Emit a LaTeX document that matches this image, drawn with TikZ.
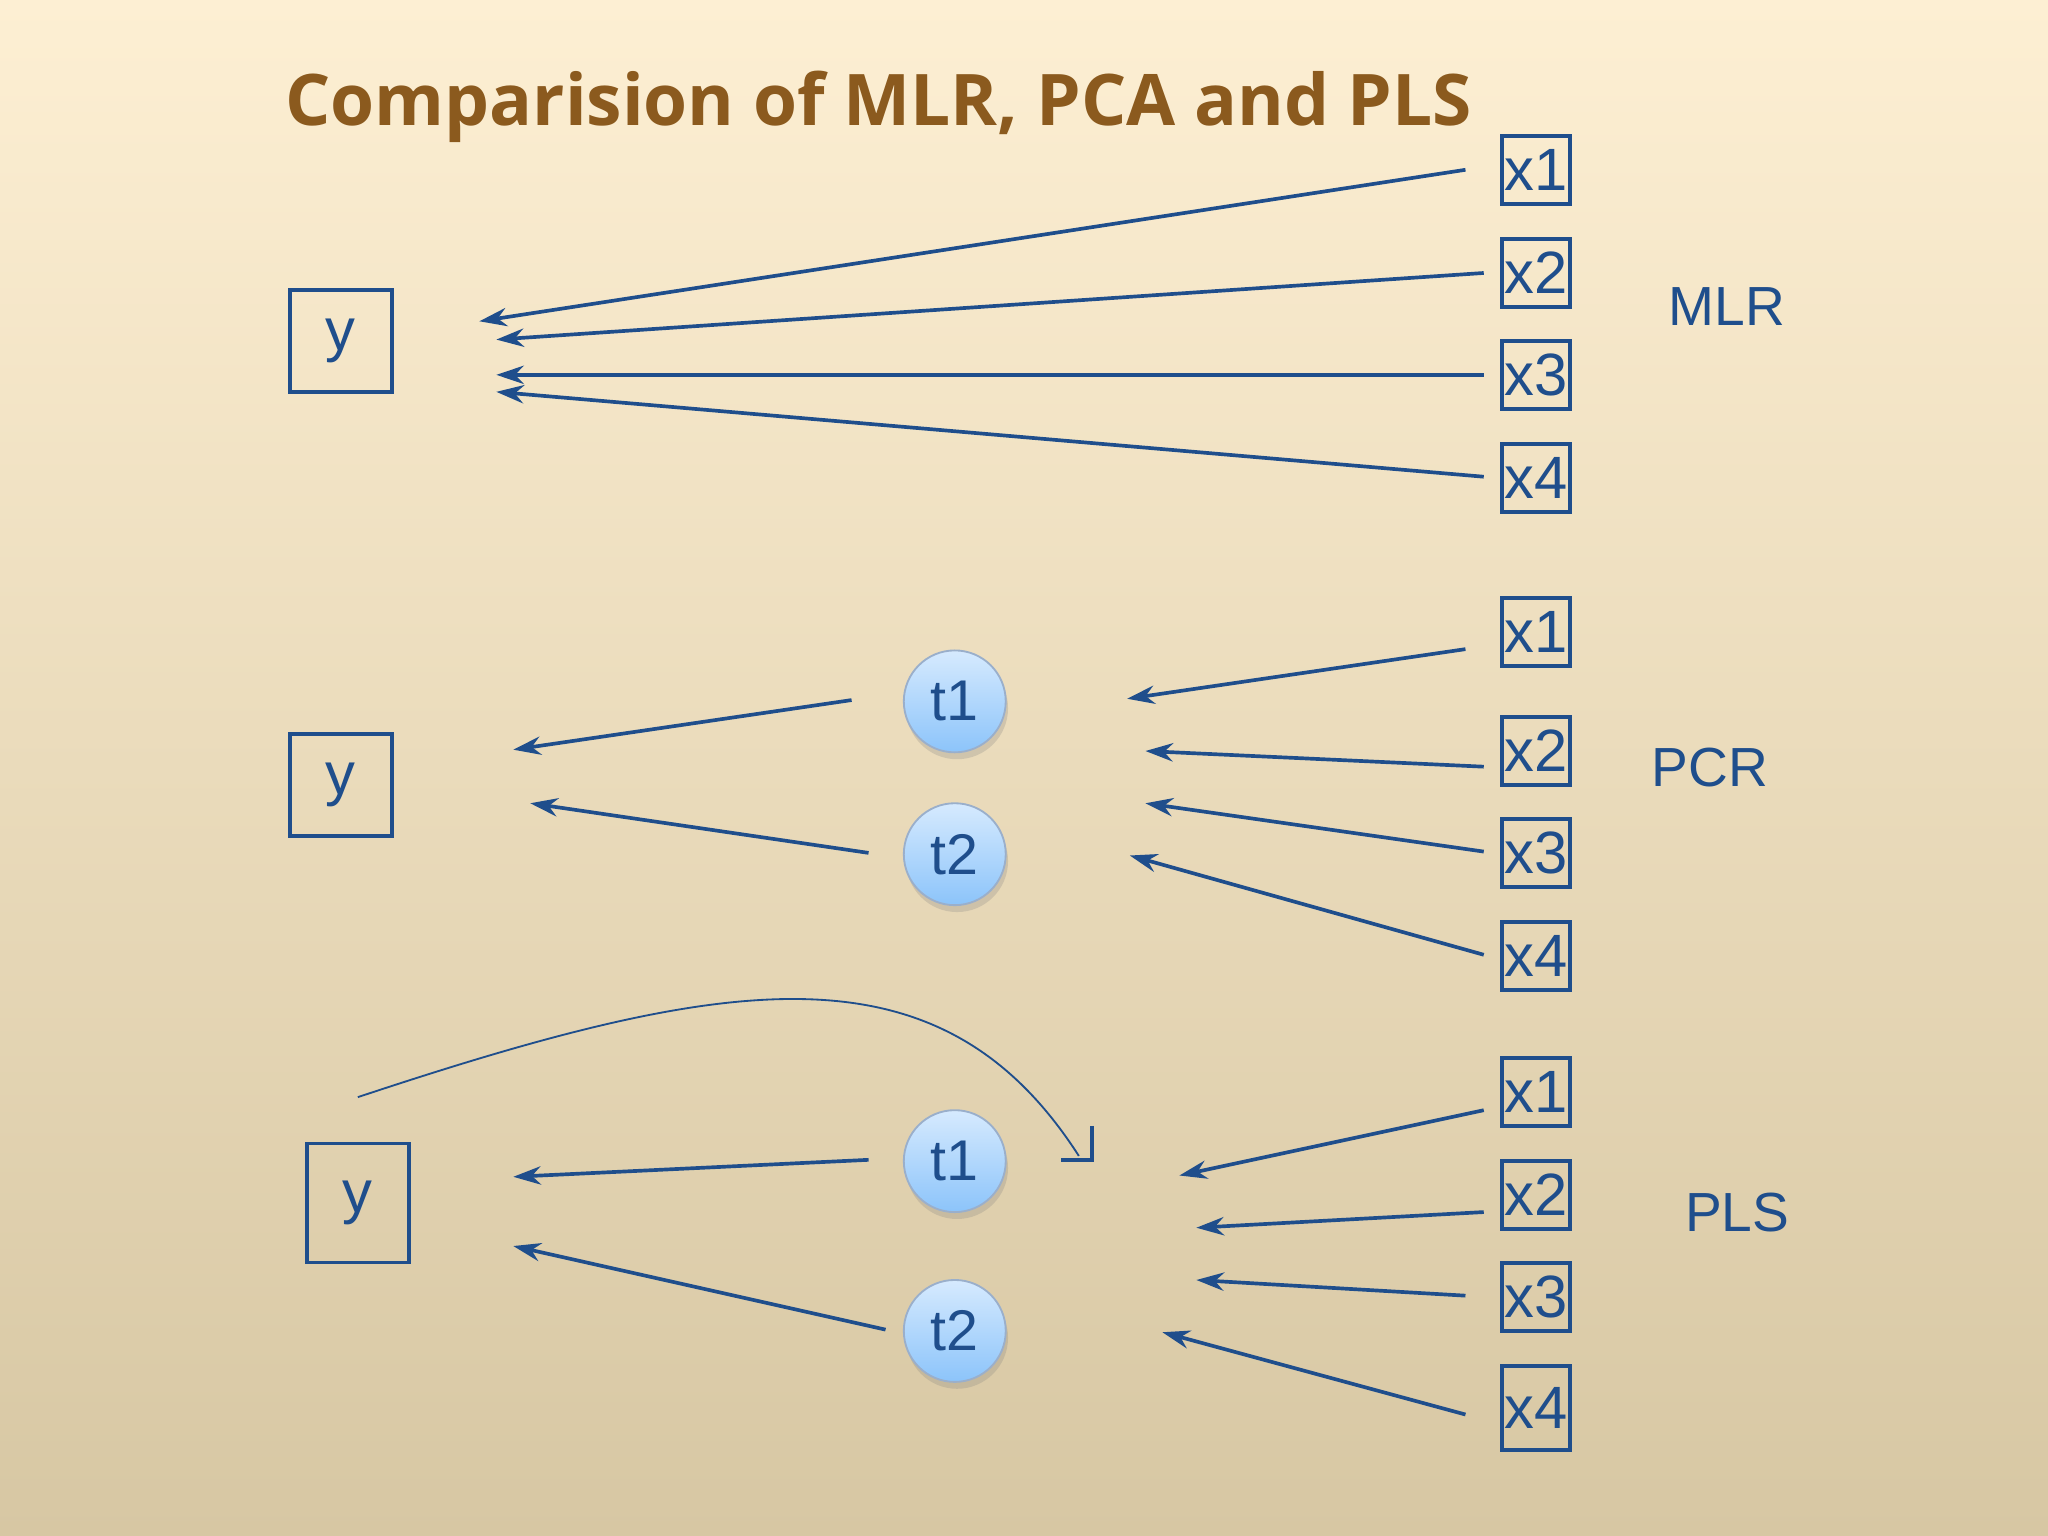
\documentclass[tikz,border=0pt]{standalone}
\usepackage{fontspec}
\setmainfont{Liberation Sans}
\newfontfamily\titlefont{Open Sans}
\usetikzlibrary{arrows.meta,shadows}
\definecolor{ln}{HTML}{1F4E8C}
\definecolor{ttl}{HTML}{8B5A1E}
\definecolor{bl}{HTML}{8CC4FA}
\definecolor{bt}{HTML}{D6EAFE}
\tikzset{
 bx/.style={draw=ln,thick,minimum width=0.52cm,minimum height=0.52cm,inner sep=0,text=ln,font=\fontsize{13}{13}\selectfont},
 ybx/.style={draw=ln,thick,minimum width=0.78cm,minimum height=0.78cm,inner sep=0,text=ln,font=\fontsize{13}{13}\selectfont},
 ball/.style={circle,minimum size=0.78cm,inner sep=0,draw=ln!45,text=ln,font=\fontsize{12.5}{12.5}\selectfont,top color=bt,bottom color=bl,drop shadow={opacity=0.25,shadow xshift=0.5pt,shadow yshift=-1.5pt}},
 ar/.style={draw=ln,thick,-{Stealth[length=6pt,width=4pt]}},
 lab/.style={text=ln,font=\fontsize{12}{12}\selectfont}
}
\begin{document}
\begin{tikzpicture}[x=0.01cm,y=-0.01cm]
\useasboundingbox (0,0) rectangle (1568,1176);
\shade[top color={rgb,255:red,253;green,239;blue,211},middle color={rgb,255:red,242;green,234;blue,212},bottom color={rgb,255:red,215;green,199;blue,163}] (0,0) rectangle (1568,1176);
\node[anchor=west,text=ttl,font=\titlefont\bfseries\fontsize{15.5}{15.5}\selectfont] (title) at (206,82) {Comparision of MLR, PCA and PLS};
% MLR
\node[ybx] (y1) at (261,261) {y};
\foreach \n/\yy in {1/130,2/209,3/287,4/366}{\node[bx] (a\n) at (1176,\yy) {x\n};}
\node[lab] (mlr) at (1322,235) {MLR};
\coordinate (s1) at (1122,130); \coordinate (e1) at (367,246);
\coordinate (s2) at (1136,209); \coordinate (e2) at (380,260);
\coordinate (s3) at (1136,287); \coordinate (e3) at (380,287);
\coordinate (s4) at (1136,365); \coordinate (e4) at (380,300);
\foreach \i in {1,...,4}{\draw[ar] (s\i) -- (e\i);}
% PCR
\node[ybx] (y2) at (261,601) {y};
\node[ball] (t1) at (731,537) {t1};
\node[ball] (t2) at (731,654) {t2};
\foreach \n/\yy in {1/484,2/575,3/653,4/732}{\node[bx] (b\n) at (1176,\yy) {x\n};}
\node[lab] (pcr) at (1309,588) {PCR};
\coordinate (p1) at (652,536); \coordinate (q1) at (393,574);
\coordinate (p2) at (665,653); \coordinate (q2) at (406,615);
\coordinate (p3) at (1122,497); \coordinate (q3) at (863,535);
\coordinate (p4) at (1136,587); \coordinate (q4) at (877,575);
\coordinate (p5) at (1136,652); \coordinate (q5) at (877,615);
\coordinate (p6) at (1136,731); \coordinate (q6) at (865,655);
\foreach \i in {1,...,6}{\draw[ar] (p\i) -- (q\i);}
% PLS
\node[draw=ln,thick,minimum width=0.78cm,minimum height=0.91cm,inner sep=0,text=ln,font=\fontsize{13}{13}\selectfont] (y3) at (274,921) {y};
\node[ball] (u1) at (731,889) {t1};
\node[ball] (u2) at (731,1019) {t2};
\foreach \n/\yy in {1/836,2/915,3/993}{\node[bx] (c\n) at (1176,\yy) {x\n};}
\node[bx,minimum height=0.64cm] (c4) at (1176,1078) {x4};
\node[lab] (pls) at (1330,928) {PLS};
\coordinate (r1) at (665,888); \coordinate (w1) at (393,901);
\coordinate (r2) at (678,1018); \coordinate (w2) at (393,954);
\coordinate (r3) at (1136,850); \coordinate (w3) at (903,900);
\coordinate (r4) at (1136,928); \coordinate (w4) at (916,940);
\coordinate (r5) at (1122,992); \coordinate (w5) at (916,980);
\coordinate (r6) at (1122,1083); \coordinate (w6) at (890,1020);
\foreach \i in {1,...,6}{\draw[ar] (r\i) -- (w\i);}
\coordinate (cs) at (274,840); \coordinate (ce) at (826,885);
\draw[ln] (cs) .. controls (560,745) and (720,720) .. (ce);
\draw[ln,thick] (836,862) -- (836,888) -- (812,888);
\end{tikzpicture}
\end{document}
